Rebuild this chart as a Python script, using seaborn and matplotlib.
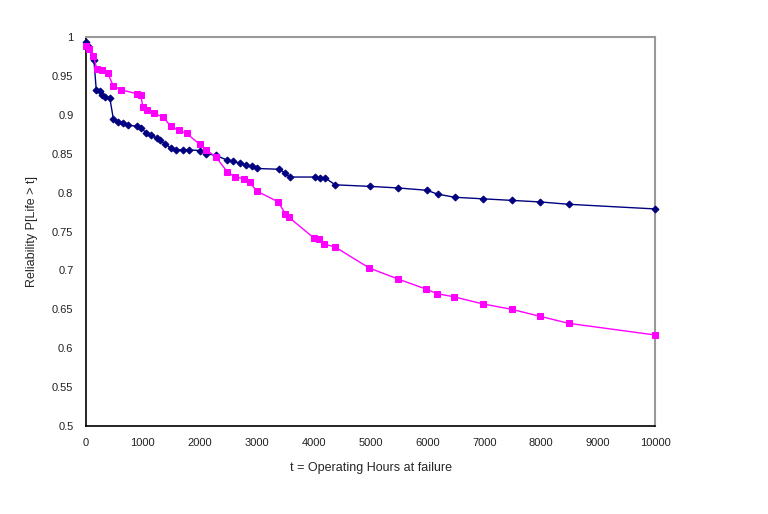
import numpy as np
import pandas as pd
import matplotlib
matplotlib.use("Agg")
import matplotlib.pyplot as plt
import seaborn as sns

# operating hours / reliability, series 1 (navy diamonds)
hours_a = [0, 30, 140, 180, 250, 280, 330, 420, 480, 560, 650, 730, 900, 960,
           1060, 1150, 1240, 1300, 1380, 1500, 1580, 1700, 1810, 2000, 2110,
           2280, 2470, 2580, 2700, 2820, 2910, 3000, 3400, 3500, 3580, 4020,
           4110, 4200, 4380, 4990, 5480, 5990, 6180, 6480, 6980, 7480, 7980,
           8480, 10000]
rel_a = [0.993, 0.988, 0.970, 0.932, 0.931, 0.926, 0.923, 0.921, 0.895, 0.891,
         0.889, 0.887, 0.885, 0.883, 0.877, 0.874, 0.870, 0.867, 0.863, 0.857,
         0.855, 0.855, 0.855, 0.854, 0.850, 0.848, 0.842, 0.840, 0.838, 0.835,
         0.834, 0.831, 0.830, 0.825, 0.820, 0.820, 0.819, 0.819, 0.810, 0.808,
         0.806, 0.803, 0.798, 0.794, 0.792, 0.790, 0.788, 0.785, 0.779]

# series 2 (magenta squares)
hours_b = [0, 60, 130, 190, 280, 380, 480, 620, 900, 960, 1000, 1080, 1190,
           1360, 1490, 1640, 1770, 2000, 2110, 2280, 2480, 2620, 2770, 2880,
           3000, 3380, 3500, 3570, 4000, 4100, 4180, 4380, 4980, 5480, 5975,
           6175, 6470, 6970, 7480, 7980, 8480, 10000]
rel_b = [0.988, 0.985, 0.976, 0.959, 0.957, 0.954, 0.937, 0.932, 0.927, 0.926,
         0.910, 0.906, 0.902, 0.897, 0.885, 0.880, 0.876, 0.862, 0.855, 0.846,
         0.827, 0.820, 0.818, 0.813, 0.802, 0.788, 0.773, 0.768, 0.742, 0.740,
         0.734, 0.730, 0.703, 0.689, 0.676, 0.670, 0.666, 0.657, 0.650, 0.641,
         0.632, 0.617]

x_ticks = list(range(0, 10001, 1000))
y_ticks = [0.5, 0.55, 0.6, 0.65, 0.7, 0.75, 0.8, 0.85, 0.9, 0.95, 1.0]
y_labels = ["0.5", "0.55", "0.6", "0.65", "0.7", "0.75", "0.8", "0.85", "0.9", "0.95", "1"]

sns.set_style("white")
plt.rcParams["font.family"] = ["Liberation Sans", "DejaVu Sans"]

df_a = pd.DataFrame({"t": hours_a, "R": rel_a})
df_b = pd.DataFrame({"t": hours_b, "R": rel_b})

fig = plt.figure(figsize=(7.68, 5.14), dpi=100)
ax = fig.add_axes([86 / 768, 1 - 426 / 514, (655 - 86) / 768, (426 - 37) / 514])

sns.lineplot(data=df_a, x="t", y="R", sort=False, estimator=None, ax=ax,
             color="#000080", lw=1, marker="D", markersize=3.5,
             markeredgecolor="#000080", clip_on=False, zorder=3)
sns.lineplot(data=df_b, x="t", y="R", sort=False, estimator=None, ax=ax,
             color="#FF00FF", lw=1, marker="s", markersize=5,
             markeredgecolor="#FF00FF", clip_on=False, zorder=3)

ax.set_xlim(0, 10000)
ax.set_ylim(0.5, 1.0)
ax.set_xticks(x_ticks)
ax.set_xticklabels([str(v) for v in x_ticks])
ax.set_yticks(y_ticks)
ax.set_yticklabels(y_labels)
ax.tick_params(direction="inout", length=6, width=1, labelsize=8,
               color="black", labelcolor="#222222", pad=6)

for side in ["left", "bottom"]:
    ax.spines[side].set_color("black")
    ax.spines[side].set_linewidth(1.2)
for side in ["top", "right"]:
    ax.spines[side].set_color("#999999")
    ax.spines[side].set_linewidth(1.5)

ax.set_xlabel("t = Operating Hours at failure", fontsize=9, labelpad=10)
ax.set_ylabel("Reliability P[Life > t]", fontsize=9, labelpad=10)

fig.savefig("out.png", dpi=100)
